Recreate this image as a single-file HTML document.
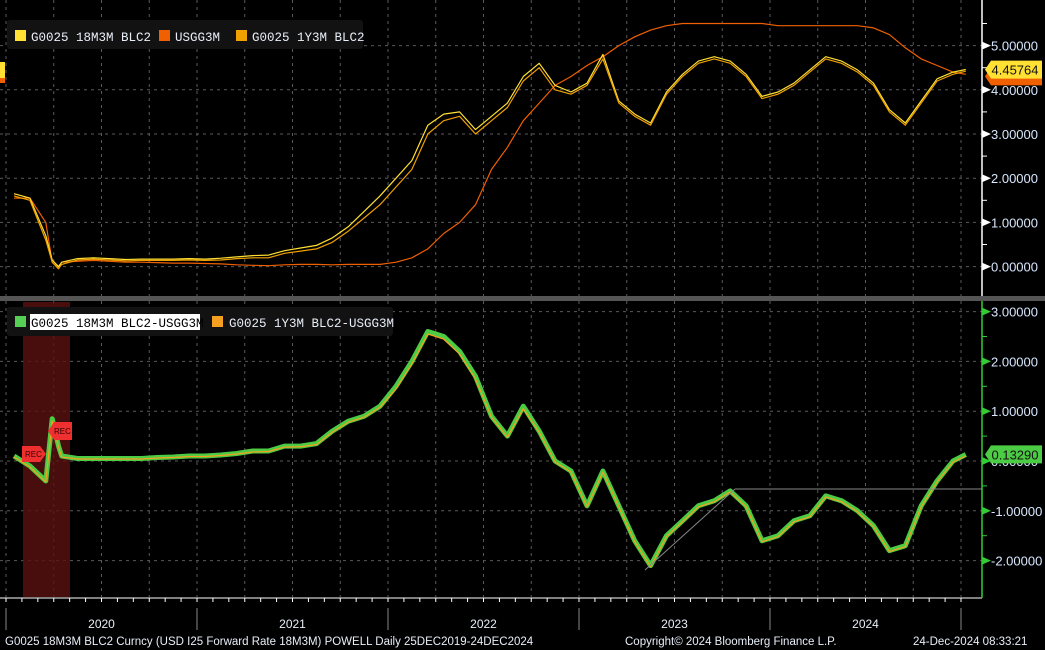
<!DOCTYPE html>
<html><head><meta charset="utf-8"><style>
html,body{margin:0;padding:0;background:#000;}
svg{display:block;font-family:"Liberation Sans",sans-serif;}
.ax{font-family:"Liberation Sans",sans-serif;font-size:13px;fill:#d8e8ff;}
</style></head><body>
<svg id="chart" width="1045" height="650" viewBox="0 0 1045 650">
<rect width="1045" height="650" fill="#000"/>
<g id="grid"></g>
<rect x="23" y="302" width="47" height="295" fill="#5a1212" opacity="0.8"/>
<g id="series"></g>
<g id="axes"></g>
<rect x="0" y="296" width="1045" height="5" fill="#555"/>
<g>
<rect x="7" y="20" width="356" height="29" rx="3" fill="#121212"/>
<rect x="15" y="30" width="11" height="11" fill="#ffe033"/>
<text x="31" y="41" fill="#e8eef8" font-size="12.5" font-family="Liberation Mono,monospace">G0025 18M3M BLC2</text>
<rect x="159" y="30" width="11" height="11" fill="#f06000"/>
<text x="175" y="41" fill="#e8eef8" font-size="12.5" font-family="Liberation Mono,monospace">USGG3M</text>
<rect x="236" y="30" width="11" height="11" fill="#f0a000"/>
<text x="252" y="41" fill="#e8eef8" font-size="12.5" font-family="Liberation Mono,monospace">G0025 1Y3M BLC2</text>
</g>
<g>
<rect x="7" y="307" width="386" height="29" rx="3" fill="#121212"/>
<rect x="15" y="316" width="11" height="11" fill="#55d055"/>
<rect x="30" y="314" width="170" height="16" fill="#fff"/>
<text x="31" y="327" fill="#000" font-size="12.5" font-family="Liberation Mono,monospace">G0025 18M3M BLC2-USGG3M</text>
<rect x="212" y="316" width="11" height="11" fill="#f5a020"/>
<text x="229" y="327" fill="#e8eef8" font-size="12.5" font-family="Liberation Mono,monospace">G0025 1Y3M BLC2-USGG3M</text>
</g>
<g>
<polygon points="22,446 40,446 46,454 40,462 22,462" fill="#f03030"/>
<text x="25" y="457" font-size="8" fill="#300">REC</text>
<polygon points="48,431 54,422 72,422 72,440 54,440" fill="#f03030"/>
<text x="54" y="434" font-size="8" fill="#300">REC</text>
</g>
<g>
<text x="5" y="645" fill="#e8eef8" font-size="11.5">G0025 18M3M BLC2 Curncy (USD I25 Forward Rate 18M3M) POWELL  Daily 25DEC2019-24DEC2024</text>
<text x="625" y="645" fill="#e8eef8" font-size="11.5">Copyright© 2024 Bloomberg Finance L.P.</text>
<text x="913" y="645" fill="#e8eef8" font-size="11.5">24-Dec-2024 08:33:21</text>
</g>
</svg>
<script>
// month index (0 = Jan 2020), plotted at mid-month
const months = [0,1,2,2.4,2.8,3,4,5,6,7,8,9,10,11,12,13,14,15,16,17,18,19,20,21,22,23,24,25,26,27,28,29,30,31,32,33,34,35,36,37,38,39,40,41,42,43,44,45,46,47,48,49,50,51,52,53,54,55,56,57,58,59,59.8];
const usgg3m = [1.55,1.55,1.0,0.1,-0.03,0.1,0.12,0.14,0.12,0.1,0.1,0.09,0.08,0.08,0.07,0.06,0.04,0.03,0.02,0.04,0.05,0.05,0.04,0.05,0.05,0.05,0.1,0.2,0.4,0.75,1.0,1.4,2.2,2.7,3.3,3.7,4.1,4.3,4.55,4.75,5.0,5.2,5.35,5.45,5.5,5.5,5.5,5.5,5.5,5.5,5.45,5.45,5.45,5.45,5.45,5.45,5.4,5.25,4.95,4.7,4.55,4.4,4.35];
const fwd1y3m = [1.6,1.5,0.6,0.1,-0.05,0.05,0.15,0.17,0.15,0.13,0.14,0.14,0.14,0.15,0.14,0.15,0.18,0.2,0.2,0.3,0.35,0.4,0.55,0.8,1.1,1.4,1.8,2.2,3.0,3.3,3.4,3.0,3.3,3.6,4.2,4.5,4.0,3.9,4.1,4.7,3.7,3.4,3.2,3.9,4.3,4.6,4.7,4.6,4.3,3.8,3.9,4.1,4.4,4.7,4.6,4.4,4.1,3.5,3.2,3.7,4.2,4.35,4.42];
const fwd18m3m = [1.65,1.55,0.7,0.15,0.0,0.1,0.18,0.2,0.18,0.16,0.17,0.17,0.17,0.18,0.17,0.19,0.22,0.25,0.26,0.36,0.42,0.48,0.65,0.9,1.25,1.6,2.0,2.4,3.2,3.45,3.5,3.1,3.4,3.7,4.3,4.6,4.1,3.95,4.15,4.8,3.75,3.45,3.25,3.95,4.35,4.65,4.75,4.65,4.35,3.85,3.95,4.15,4.45,4.75,4.65,4.45,4.15,3.55,3.25,3.75,4.25,4.4,4.46];
const spread18 = [0.1,-0.1,-0.4,0.85,0.3,0.1,0.05,0.05,0.05,0.05,0.05,0.07,0.08,0.1,0.1,0.12,0.15,0.2,0.2,0.3,0.3,0.35,0.6,0.8,0.9,1.1,1.5,2.0,2.6,2.5,2.2,1.7,0.9,0.5,1.1,0.6,0.0,-0.2,-0.9,-0.2,-0.9,-1.6,-2.1,-1.5,-1.2,-0.9,-0.8,-0.6,-0.9,-1.6,-1.5,-1.2,-1.1,-0.7,-0.8,-1.0,-1.3,-1.8,-1.7,-0.9,-0.4,0.0,0.13];
const spread1y = [0.08,-0.12,-0.42,0.8,0.28,0.08,0.04,0.04,0.04,0.04,0.04,0.06,0.07,0.09,0.09,0.11,0.14,0.18,0.19,0.28,0.29,0.33,0.58,0.78,0.88,1.08,1.45,1.95,2.55,2.45,2.15,1.65,0.88,0.48,1.05,0.58,-0.02,-0.22,-0.92,-0.22,-0.92,-1.62,-2.12,-1.52,-1.22,-0.92,-0.82,-0.62,-0.92,-1.62,-1.52,-1.22,-1.12,-0.72,-0.82,-1.02,-1.32,-1.82,-1.72,-0.92,-0.42,-0.02,0.1];
const topTicks = [0,1,2,3,4,5];
const botTicks = [-2,-1,0,1,2,3];
const years = ["2020","2021","2022","2023","2024"];
const lastTop = "4.45764";
const lastBot = "0.13290";

const NS = "http://www.w3.org/2000/svg";
const X0 = 6, PXY = 191;
const xS = m => X0 + (m + 0.5) / 12 * PXY;
const yTop = v => 266.6 - v * 44.2;
const yBot = v => 461 - v * 49.8;
function mk(tag, attrs, parent){ const e = document.createElementNS(NS, tag); for (const k in attrs) e.setAttribute(k, attrs[k]); parent.appendChild(e); return e; }
const grid = document.getElementById('grid'), ser = document.getElementById('series'), axes = document.getElementById('axes');

topTicks.forEach(v => {
  const l = mk('line', {x1:0, x2:982, y1:yTop(v), y2:yTop(v), stroke:'#5a5a5a', 'stroke-dasharray':'3,4'}, grid);
  
  
});
botTicks.forEach(v => {
  const l = mk('line', {x1:0, x2:982, y1:yBot(v), y2:yBot(v), stroke:'#5a5a5a', 'stroke-dasharray':'3,4'}, grid);
  
  
});
for (let q = 0; q <= 20; q++) {
  const x = X0 + q * PXY / 4;
  const l = mk('line', {x1:x, x2:x, y1:0, y2:597, stroke:'#5a5a5a', 'stroke-dasharray':'3,4'}, grid);
  
  
}

function path(vals, ys, color, w, name){
  const d = vals.map((v,i) => (i ? 'L' : 'M') + xS(months[i]).toFixed(1) + ',' + ys(v).toFixed(1)).join('');
  const p = mk('path', {d:d, fill:'none', stroke:color, 'stroke-width':w, 'stroke-linejoin':'round'}, ser);
  
  
}
path(usgg3m, yTop, '#f06000', 1.2, 'line-usgg3m');
path(fwd18m3m, yTop, '#ffe033', 1.2, 'line-18m3m');
path(fwd1y3m, yTop, '#f0a000', 1.2, 'line-1y3m');
path(spread18, yBot, '#4ccc44', 5, 'line-spread-18m3m');
path(spread1y, yBot, '#f5a020', 1.2, 'line-spread-1y3m');

const t1 = mk('line', {x1:645, y1:570, x2:735, y2:489, stroke:'#888', 'stroke-width':1}, ser);


const t2 = mk('line', {x1:735, y1:489, x2:982, y2:489, stroke:'#888', 'stroke-width':1}, ser);



const ba = mk('line', {x1:0, x2:982, y1:598, y2:598, stroke:'#fff'}, axes);


const ra = mk('line', {x1:982, x2:982, y1:0, y2:296, stroke:'#fff', 'stroke-width':1.5}, axes);


const rb = mk('line', {x1:982, x2:982, y1:301, y2:598, stroke:'#3c3', 'stroke-width':1.5}, axes);


for (let m = 0; m <= 60; m++) {
  const x = X0 + m * PXY / 12;
  const t = mk('line', {x1:x, x2:x, y1:598, y2:602, stroke:'#fff'}, axes);
  
  
}
years.forEach((y, i) => {
  const x = X0 + i * PXY;
  const s = mk('line', {x1:x, x2:x, y1:608, y2:630, stroke:'#888'}, axes);
  
  
  const t = mk('text', {x:x + PXY/2, y:628, 'text-anchor':'middle', fill:'#e8eef8', 'font-size':12}, axes);
  t.textContent = y;
  
  
});
const sLast = mk('line', {x1:X0+5*PXY, x2:X0+5*PXY, y1:608, y2:630, stroke:'#888'}, axes);



function yLabels(ticks, ys, arrowColor, nm, half){
  ticks.forEach(v => {
    const y = ys(v);
    const a = mk('polygon', {points:`982,${y-4} 991,${y} 982,${y+4}`, fill:arrowColor}, axes);
    
    
    const t = mk('text', {x:991, y:y+5, class:'ax'}, axes);
    t.textContent = v.toFixed(5);
    
    
    const hy = ys(v + 0.5);
    if (hy > half[0] && hy < half[1]) {
      const m = mk('line', {x1:982, x2:987, y1:hy, y2:hy, stroke:arrowColor}, axes);
      
      
    }
  });
}
yLabels(topTicks, yTop, '#fff', 'top-y', [0, 296]);
yLabels(botTicks, yBot, '#3c3', 'bottom-y', [301, 597]);

function tag(y, fill, text, nm){
  const p = mk('polygon', {points:`985,${y} 991,${y-9} 1042,${y-9} 1042,${y+9} 991,${y+9}`, fill:fill}, axes);
  
  
  if (text) {
    const t = mk('text', {x:1015, y:y+5, 'text-anchor':'middle', fill:'#111', 'font-size':13, 'font-family':'Liberation Sans,sans-serif'}, axes);
    t.textContent = text;
    
    
  }
}
tag(yTop(4.35) + 2, '#f06000', '', 'usgg3m-last');
tag(yTop(4.45764), '#ffe033', lastTop, 'top-last');
tag(yBot(0.1329), '#4ccc44', lastBot, 'bottom-last');
const lt = mk('rect', {x:0, y:62, width:5, height:16, fill:'#ffe033'}, axes);


const lo = mk('rect', {x:0, y:78, width:5, height:5, fill:'#f06000'}, axes);


</script>
</body></html>
